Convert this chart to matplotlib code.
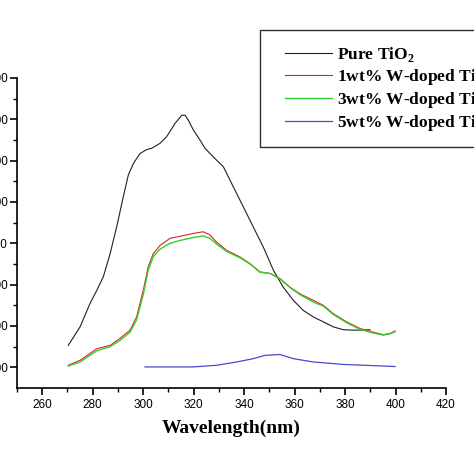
import matplotlib
matplotlib.use("Agg")
import matplotlib.pyplot as plt
from matplotlib.patches import Rectangle

plt.rcParams['font.family'] = 'Liberation Sans'
plt.rcParams['mathtext.fontset'] = 'custom'
plt.rcParams['mathtext.rm'] = 'Liberation Serif:bold'
plt.rcParams['mathtext.bf'] = 'Liberation Serif:bold'

# Pure TiO2
wl_pure = [270.3, 275.0, 278.9, 281.6, 284.2, 286.9, 289.5, 292.1, 294.1, 296.1,
           298.7, 301.4, 303.4, 306.7, 309.3, 312.6, 315.3, 316.6, 317.9, 319.9,
           322.5, 324.5, 327.8, 331.8, 335.7, 339.7, 343.6, 347.6, 351.6, 355.5,
           359.5, 363.4, 367.4, 371.4, 375.3, 379.3, 383.3, 387.2, 389.9]
pl_pure = [153, 198, 254, 286, 319, 375, 440, 512, 565, 593,
           617, 627, 630, 642, 658, 690, 710, 710, 698, 674,
           650, 630, 609, 585, 537, 488, 440, 391, 335, 294,
           262, 238, 222, 210, 198, 191, 190, 190, 191]

# 1wt% and 3wt% W-doped
wl_doped = [270.3, 275.0, 281.6, 286.9, 290.8, 294.8, 297.4, 300.0, 302.0, 304.0,
            306.7, 310.6, 314.6, 319.9, 323.8, 326.5, 329.1, 333.1, 338.4, 342.3,
            346.3, 350.3, 354.2, 358.2, 362.1, 367.4, 371.4, 375.3, 380.6, 385.9,
            391.2, 395.2, 397.8, 399.8]
pl_1wt = [105, 117, 145, 153, 170, 190, 222, 286, 343, 375,
          395, 412, 417, 424, 428, 420, 403, 383, 367, 351,
          331, 327, 315, 294, 278, 262, 250, 230, 210, 194,
          185, 179, 182, 188]
pl_3wt = [103, 113, 140, 150, 165, 185, 215, 275, 335, 368,
          386, 400, 407, 414, 418, 412, 398, 380, 365, 350,
          330, 327, 314, 293, 276, 258, 248, 228, 208, 192,
          183, 178, 181, 186]

# 5wt% W-doped
wl_5wt = [300.7, 306.7, 319.9, 329.1, 337.1, 343.6, 348.3, 354.2, 359.5, 367.4, 379.3, 399.8]
pl_5wt = [101, 101, 101, 105, 113, 121, 129, 131, 121, 113, 107, 102]

labels = ['Pure TiO$_2$', '1wt% W-doped TiO$_2$', '3wt% W-doped TiO$_2$', '5wt% W-doped TiO$_2$']

fig = plt.figure(figsize=(4.74, 4.74), dpi=100)
ax = fig.add_axes([17/474, 1-388/474, (446-17)/474, (388-78)/474])

ax.plot(wl_pure, pl_pure, color='#202020', lw=0.8, label=labels[0])
ax.plot(wl_doped, pl_1wt, color='#e02020', lw=0.8, label=labels[1])
ax.plot(wl_doped, pl_3wt, color='#30d030', lw=1.0, label=labels[2])
ax.plot(wl_5wt, pl_5wt, color='#4848d0', lw=0.9, label=labels[3])

ax.set_xlim(250, 420)
ax.set_ylim(50, 800)
ax.set_xticks(range(260, 421, 20))
ax.set_xticks(range(250, 421, 10), minor=True)
ax.set_yticks(range(100, 801, 100))
ax.set_yticks(range(150, 800, 100), minor=True)
ax.spines['top'].set_visible(False)
ax.spines['right'].set_visible(False)
for s in ['left', 'bottom']:
    ax.spines[s].set_linewidth(1.2)
ax.tick_params(which='major', length=5, width=1.2, labelsize=8.5, pad=3)
ax.tick_params(axis='y', pad=1.5)
ax.tick_params(which='minor', length=3, width=1.0)

ax.set_xlabel('Wavelength(nm)', family='Liberation Serif', fontweight='bold', fontsize=14, labelpad=6)

# legend box runs off the right edge of the figure
ax.add_patch(Rectangle((260/474, 1-147/474), 0.6, 117/474, transform=fig.transFigure, clip_on=False,
                       facecolor='white', edgecolor='#303030', lw=1.0, zorder=4))
leg = ax.legend(loc='upper left', bbox_to_anchor=(285/474, 1-45/474), bbox_transform=fig.transFigure,
                prop={'family': 'Liberation Serif', 'weight': 'bold', 'size': 12.5},
                frameon=False, borderpad=0, borderaxespad=0,
                handlelength=2.7, handletextpad=0.3, labelspacing=0.17)
leg.set_zorder(5)

plt.savefig('out.png', dpi=100)
